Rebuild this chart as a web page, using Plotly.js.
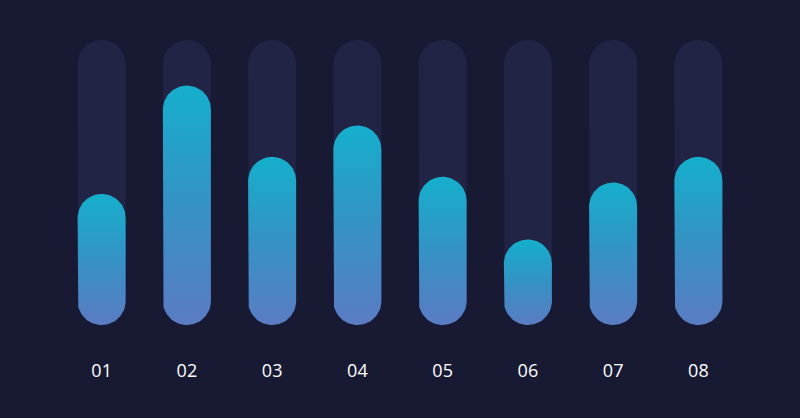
<!DOCTYPE html>
<html>
<head>
<meta charset="utf-8">
<script src="https://cdn.plot.ly/plotly-3.0.1.min.js"></script>
<style>
html,body{margin:0;padding:0;background:#181a34;}
#chart{width:800px;height:418px;}
</style>
</head>
<body>
<div id="chart"></div>
<script>
// Data
var categories = ['01','02','03','04','05','06','07','08'];
var values = [46, 84, 59, 70, 52, 30, 50, 59];
var trackMax = 100;

// Layout constants
var W = 800, H = 418;
var margin = {l: 59.4, r: 59, t: 40, b: 93};
var plotW = W - margin.l - margin.r;
var plotH = H - margin.t - margin.b;
var xRange = [-0.5, categories.length - 0.5];
var yRange = [0, trackMax];
var pxPerX = plotW / (xRange[1] - xRange[0]);
var pxPerY = plotH / (yRange[1] - yRange[0]);
var barPx = 48;
var rPx = barPx / 2;
var rx = rPx / pxPerX, ry = rPx / pxPerY;

function pill(cx, v0, v1) {
  var xs = [], ys = [];
  var n = 40, k, a;
  var top = v1 - ry, bot = v0 + ry;
  for (k = 0; k <= n; k++) {
    a = Math.PI * k / n;
    xs.push(cx + rx * Math.cos(a));
    ys.push(top + ry * Math.sin(a));
  }
  for (k = 0; k <= n; k++) {
    a = Math.PI + Math.PI * k / n;
    xs.push(cx + rx * Math.cos(a));
    ys.push(bot + ry * Math.sin(a));
  }
  xs.push(xs[0]); ys.push(ys[0]);
  return {x: xs, y: ys};
}

var traces = [];
categories.forEach(function(c, i) {
  var p = pill(i, 0, trackMax);
  traces.push({
    type: 'scatter', mode: 'lines', x: p.x, y: p.y,
    fill: 'toself', fillcolor: '#212445',
    line: {width: 0, color: 'rgba(0,0,0,0)'},
    hoverinfo: 'skip', showlegend: false
  });
});
categories.forEach(function(c, i) {
  var p = pill(i, 0, values[i]);
  traces.push({
    type: 'scatter', mode: 'lines', x: p.x, y: p.y,
    fill: 'toself',
    fillgradient: {type: 'vertical', colorscale: [[0, '#5b7cc3'], [0.5, '#3592c4'], [1, '#15afcc']]},
    line: {width: 0, color: 'rgba(0,0,0,0)'},
    name: c, showlegend: false,
    hoverinfo: 'text', text: c + ': ' + values[i]
  });
});

var layout = {
  width: W, height: H,
  margin: margin,
  paper_bgcolor: '#181a34',
  plot_bgcolor: '#181a34',
  showlegend: false,
  xaxis: {
    range: xRange, fixedrange: true,
    showgrid: false, zeroline: false, showline: false,
    tickvals: categories.map(function(c, i){ return i; }),
    ticktext: categories,
    ticks: '', ticklabelstandoff: 33,
    tickfont: {family: 'Open Sans, sans-serif', size: 18, color: '#ffffff'}
  },
  yaxis: {
    range: yRange, fixedrange: true,
    showgrid: false, zeroline: false, showline: false,
    showticklabels: false, ticks: ''
  }
};

Plotly.newPlot('chart', traces, layout, {displayModeBar: false, staticPlot: true});
</script>
</body>
</html>
